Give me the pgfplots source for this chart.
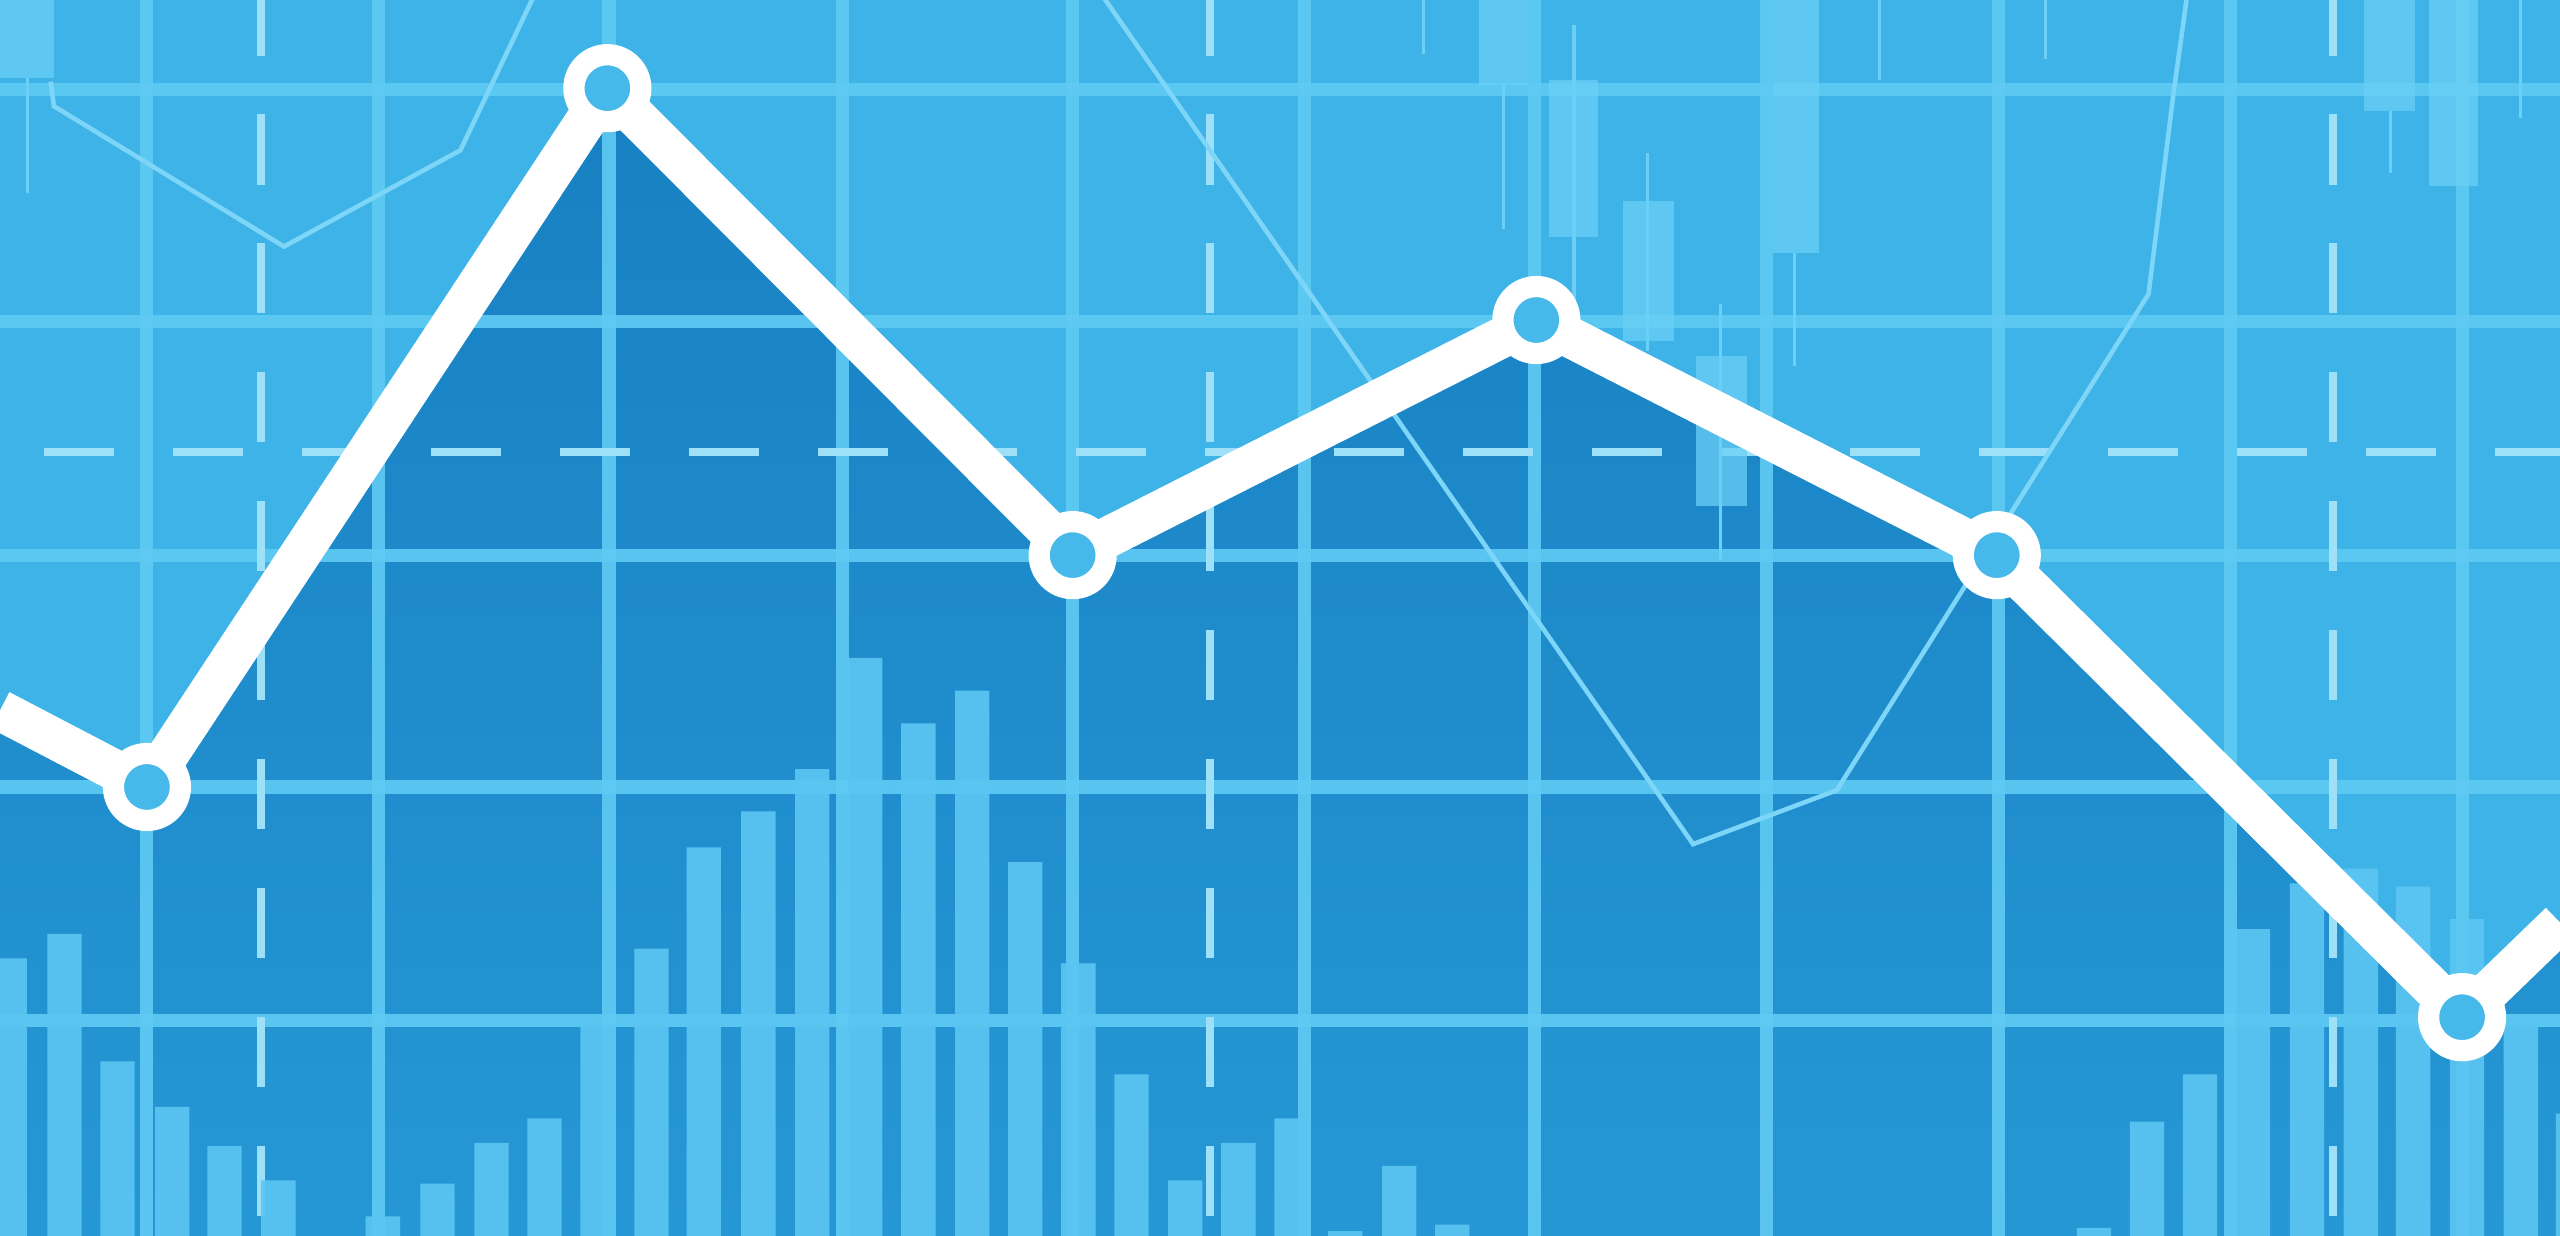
\documentclass[border=0pt]{standalone}
\usepackage{pgfplots}
\pgfplotsset{compat=1.18}
\definecolor{bgsky}{HTML}{3EB3E8}
\definecolor{deeptop}{HTML}{1780C2}
\definecolor{deepbot}{HTML}{2697D5}
\definecolor{gridc}{HTML}{5FCBF4}
\definecolor{dashc}{HTML}{9EE0F8}
\definecolor{barc}{HTML}{5CC6F2}
\definecolor{candc}{HTML}{6AD0F6}
\definecolor{thinc}{HTML}{7DD6F7}
\definecolor{ringin}{HTML}{46B8EA}
\begin{document}
\begin{tikzpicture}
\begin{axis}[
    width=156.8mm, height=75.7mm, scale only axis,
    xmin=0, xmax=1568, ymin=0, ymax=757,
    axis line style={draw=none}, ticks=none,
    axis background/.style={fill=bgsky}
]
% dark area under the main line
\addplot[draw=none, top color=deeptop, bottom color=deepbot]
  coordinates {(0,322) (90,275) (372,703) (657,417) (941,561) (1223,417) (1508,134) (1568,192)} \closedcycle;

% grid
\addplot[ycomb, draw=gridc, opacity=0.9, line width=0.8mm]
  coordinates {(90,757) (232,757) (373,757) (516,757) (657,757) (799,757) (940,757) (1082,757) (1224,757) (1366,757) (1508,757)};
\addplot[xcomb, draw=gridc, opacity=0.9, line width=0.8mm]
  coordinates {(1568,702) (1568,560) (1568,417) (1568,275) (1568,132)};

% dashed guides
\addplot[draw=dashc, line width=0.5mm, dash pattern=on 4.3mm off 3.6mm, dash phase=0.9mm] coordinates {(160,757) (160,0)};
\addplot[draw=dashc, line width=0.5mm, dash pattern=on 4.3mm off 3.6mm, dash phase=0.9mm] coordinates {(741,757) (741,0)};
\addplot[draw=dashc, line width=0.5mm, dash pattern=on 4.3mm off 3.6mm, dash phase=0.9mm] coordinates {(1429,757) (1429,0)};
\addplot[draw=dashc, line width=0.5mm, dash pattern=on 4.3mm off 3.6mm, dash phase=5.2mm] coordinates {(0,480) (1568,480)};

% volume bars
\addplot[ybar, bar width=21, fill=barc, draw=none, opacity=0.9]
  coordinates {(6,170) (39.5,185) (72,107) (105.5,79) (137.5,55) (170.5,34)
    (234.5,12) (268,32) (301,57) (333.5,72) (366,130) (399,176) (431,238)
    (464.5,260) (497.5,286) (530,354) (562.5,314) (595.5,334) (628,229)
    (660.5,167) (693,99) (726,34) (758.5,57) (791,72) (824,3) (857,43) (889.5,7)
    (1282.5,5) (1315,70) (1347.5,99) (1380,188) (1413,216) (1446,225)
    (1478,214) (1511,194) (1544,131) (1576,75)};

% candlesticks
\addplot[fill=candc, draw=none, opacity=0.75] coordinates {(-5,709) (33,709) (33,770) (-5,770)} -- cycle;
\addplot[fill=candc, draw=none, opacity=0.75] coordinates {(906,705) (936,705) (936,770) (906,770)} -- cycle;
\addplot[fill=candc, draw=none, opacity=0.75] coordinates {(949,612) (979,612) (979,708) (949,708)} -- cycle;
\addplot[fill=candc, draw=none, opacity=0.75] coordinates {(994,548) (1025,548) (1025,634) (994,634)} -- cycle;
\addplot[fill=candc, draw=none, opacity=0.75] coordinates {(1039,447) (1070,447) (1070,539) (1039,539)} -- cycle;
\addplot[fill=candc, draw=none, opacity=0.75] coordinates {(1086,602) (1114,602) (1114,770) (1086,770)} -- cycle;
\addplot[fill=candc, draw=none, opacity=0.75] coordinates {(1448,689) (1479,689) (1479,770) (1448,770)} -- cycle;
\addplot[fill=candc, draw=none, opacity=0.75] coordinates {(1488,643) (1518,643) (1518,770) (1488,770)} -- cycle;
\addplot[draw=candc, line width=0.2mm] coordinates {(17,639) (17,709)};
\addplot[draw=candc, line width=0.2mm] coordinates {(872,724) (872,770)};
\addplot[draw=candc, line width=0.2mm] coordinates {(921,617) (921,705)};
\addplot[draw=candc, line width=0.2mm] coordinates {(964,560) (964,742)};
\addplot[draw=candc, line width=0.2mm] coordinates {(1009,542) (1009,663)};
\addplot[draw=candc, line width=0.2mm] coordinates {(1054,414) (1054,571)};
\addplot[draw=candc, line width=0.2mm] coordinates {(1099,533) (1099,602)};
\addplot[draw=candc, line width=0.2mm] coordinates {(1151,708) (1151,770)};
\addplot[draw=candc, line width=0.2mm] coordinates {(1253,721) (1253,770)};
\addplot[draw=candc, line width=0.2mm] coordinates {(1464,651) (1464,689)};
\addplot[draw=candc, line width=0.2mm] coordinates {(1544,685) (1544,770)};

% thin trend lines
\addplot[draw=thinc, line width=0.28mm] coordinates {(31,707) (33,692) (174,606) (282,665) (332,770)};
\addplot[draw=thinc, line width=0.28mm] coordinates {(668,770) (1037,240) (1125,273) (1316,577) (1331,698) (1341,770)};

% main line
\addplot[draw=white, line width=2.5mm, line join=round,
    mark=*, mark indices={2,3,4,5,6,7}, mark size=2.05mm,
    mark options={fill=ringin, draw=white, line width=1.3mm}]
  coordinates {(0,322) (90,275) (372,703) (657,417) (941,561) (1223,417) (1508,134) (1568,192)};
\end{axis}
\pgfresetboundingbox
\path (current axis.south west) rectangle (current axis.north east);
\end{tikzpicture}
\end{document}
